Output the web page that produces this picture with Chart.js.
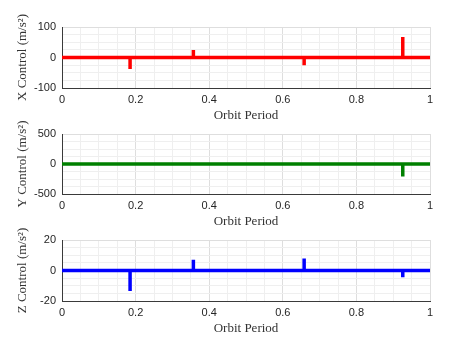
<!DOCTYPE html>
<html>
<head>
<meta charset="utf-8">
<script src="https://cdn.jsdelivr.net/npm/chart.js@4/dist/chart.umd.min.js"></script>
<style>
html,body{margin:0;padding:0;background:#fff;}
#wrap{position:relative;width:474px;height:355px;}
canvas{position:absolute;left:0;top:0;}
</style>
</head>
<body>
<div id="wrap">
<canvas id="c1" width="474" height="355"></canvas>
<canvas id="c2" width="474" height="355"></canvas>
<canvas id="c3" width="474" height="355"></canvas>
</div>
<script>
// Orbit period range
const xTicks = [0, 0.2, 0.4, 0.6, 0.8, 1];
const xLabel = 'Orbit Period';

// X control spikes (orbit fraction, m/s^2)
const xSpikePos = [0.185, 0.357, 0.658, 0.926];
const xSpikeVal = [-38, 25, -25, 67];
const xTickLabels = [-100, 0, 100];

// Y control spikes
const ySpikePos = [0.926];
const ySpikeVal = [-210];
const yTickLabels = [-500, 0, 500];

// Z control spikes
const zSpikePos = [0.185, 0.357, 0.658, 0.76, 0.926, 0.986];
const zSpikeVal = [-13.5, 7, 7.8, -1, -4.5, -1];
const zTickLabels = [-20, 0, 20];

function buildPoints(pos, val) {
  const pts = [{x: 0, y: 0}];
  for (let i = 0; i < pos.length; i++) {
    pts.push({x: pos[i], y: 0});
    pts.push({x: pos[i], y: val[i]});
    pts.push({x: pos[i], y: 0});
  }
  pts.push({x: 1, y: 0});
  return pts;
}

function near(v, arr, tol) {
  return arr.some(a => Math.abs(a - v) < tol);
}

function makeChart(id, pts, color, yLabels, minorStep, title, top, bottom) {
  const yMin = yLabels[0], yMax = yLabels[yLabels.length - 1];
  const yTol = (yMax - yMin) * 1e-4;
  new Chart(document.getElementById(id), {
    type: 'line',
    data: {
      datasets: [{
        data: pts,
        borderColor: color,
        borderWidth: 3.5,
        pointRadius: 0,
        tension: 0,
        fill: false,
        borderCapStyle: 'butt',
        borderJoinStyle: 'miter'
      }]
    },
    options: {
      responsive: false,
      animation: false,
      events: [],
      layout: {padding: {top: top, right: 44, bottom: 355 - bottom - 35, left: 0}},
      plugins: {legend: {display: false}, tooltip: {enabled: false}},
      scales: {
        x: {
          type: 'linear',
          min: 0, max: 1,
          afterFit: s => { s.height = 35; },
          afterBuildTicks: s => {
            const t = [];
            for (let i = 0; i <= 20; i++) t.push({value: i * 0.05});
            s.ticks = t;
          },
          ticks: {
            autoSkip: false, maxRotation: 0, padding: 5,
            color: '#262626',
            font: {family: '"Liberation Sans", Arial, sans-serif', size: 11},
            callback: v => near(v, xTicks, 1e-6) ? String(Math.round(v * 10) / 10) : ''
          },
          grid: {
            drawTicks: false,
            color: c => near(c.tick.value, xTicks, 1e-6) ? '#dedede' : '#efefef',
            lineWidth: 1
          },
          border: {display: true, color: '#3a3a3a', width: 1},
          title: {
            display: true, text: xLabel, color: '#333',
            font: {family: '"Liberation Serif", "Times New Roman", serif', size: 13},
            padding: {top: 0, bottom: 0}
          }
        },
        y: {
          type: 'linear',
          min: yMin, max: yMax,
          afterFit: s => { s.width = 62; },
          afterBuildTicks: s => {
            const t = [];
            const n = Math.round((yMax - yMin) / minorStep);
            for (let i = 0; i <= n; i++) t.push({value: yMin + i * minorStep});
            s.ticks = t;
          },
          ticks: {
            autoSkip: false, padding: 6,
            color: '#262626',
            font: {family: '"Liberation Sans", Arial, sans-serif', size: 11},
            callback: v => near(v, yLabels, yTol) ? String(Math.round(v)) : ''
          },
          grid: {
            drawTicks: false,
            color: c => near(c.tick.value, yLabels, yTol) ? '#dedede' : '#efefef',
            lineWidth: 1
          },
          border: {display: true, color: '#3a3a3a', width: 1},
          title: {
            display: true, text: title, color: '#333',
            font: {family: '"Liberation Serif", "Times New Roman", serif', size: 13},
            padding: {top: 15, bottom: 0}
          }
        }
      }
    }
  });
}

makeChart('c1', buildPoints(xSpikePos, xSpikeVal), '#ff0000', xTickLabels, 25, 'X Control (m/s²)', 27, 88);
makeChart('c2', buildPoints(ySpikePos, ySpikeVal), '#008000', yTickLabels, 125, 'Y Control (m/s²)', 134, 194);
makeChart('c3', buildPoints(zSpikePos, zSpikeVal), '#0000ff', zTickLabels, 5, 'Z Control (m/s²)', 240, 301);
</script>
</body>
</html>
